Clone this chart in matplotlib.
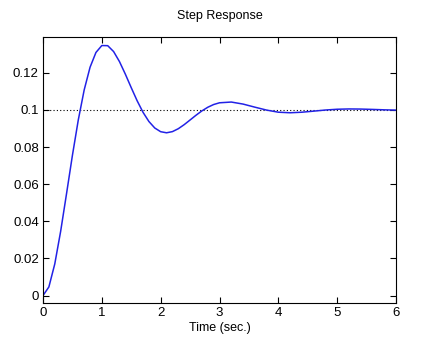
import matplotlib
matplotlib.use("Agg")
import matplotlib.pyplot as plt

# Step response values
time = [0.0, 0.1, 0.2, 0.3, 0.4, 0.5, 0.6, 0.7, 0.8, 0.9, 1.0,
        1.1, 1.2, 1.3, 1.4, 1.5, 1.6, 1.7, 1.8, 1.9, 2.0,
        2.1, 2.2, 2.3, 2.4, 2.5, 2.6, 2.7, 2.8, 2.9, 3.0,
        3.2, 3.4, 3.6, 3.8, 4.0, 4.2, 4.4, 4.6, 4.8, 5.0,
        5.2, 5.4, 5.6, 5.8, 6.0]
response = [0.0, 0.00464, 0.01702, 0.03461, 0.05489, 0.07554, 0.09465, 0.11078, 0.12302, 0.13097, 0.13469,
            0.13462, 0.13145, 0.12603, 0.11925, 0.11197, 0.10494, 0.09873, 0.09377, 0.09026, 0.08827,
            0.08769, 0.08832, 0.08989, 0.09208, 0.09459, 0.09713, 0.09946, 0.10143, 0.10291, 0.10385,
            0.10425, 0.10316, 0.10150, 0.09992, 0.09878, 0.09848, 0.09877, 0.09935, 0.09995, 0.10037,
            0.10053, 0.10047, 0.10028, 0.10006, 0.09990]
final_value = 0.1

xticks = [0, 1, 2, 3, 4, 5, 6]
yticks = [0, 0.02, 0.04, 0.06, 0.08, 0.1, 0.12]
ytick_labels = ["0", "0.02", "0.04", "0.06", "0.08", "0.1", "0.12"]

plt.rcParams['font.family'] = ['Liberation Sans', 'DejaVu Sans']
fig = plt.figure(figsize=(4.37, 3.57), dpi=100)
ax = fig.add_axes([0.0984, 0.1513, 0.8078, 0.7451])

ax.plot([time[0], time[-1]], [final_value, final_value], color='black', linestyle=(0, (1, 2)), linewidth=0.8)
ax.plot(time, response, color='#2222e6', linewidth=1.1)

ax.set_xlim(0, 6)
ax.set_ylim(-0.004, 0.1393)
ax.set_xticks(xticks)
ax.set_xticklabels([str(v) for v in xticks])
ax.set_yticks(yticks)
ax.set_yticklabels(ytick_labels)
ax.tick_params(direction='in', top=True, right=True, length=4, width=0.8, labelsize=9.5, pad=3)
for s in ax.spines.values():
    s.set_linewidth(0.8)

ax.set_title("Step Response", fontsize=9, pad=13)
ax.set_xlabel("Time (sec.)", fontsize=9, labelpad=2)

fig.savefig("out.png", dpi=100)
